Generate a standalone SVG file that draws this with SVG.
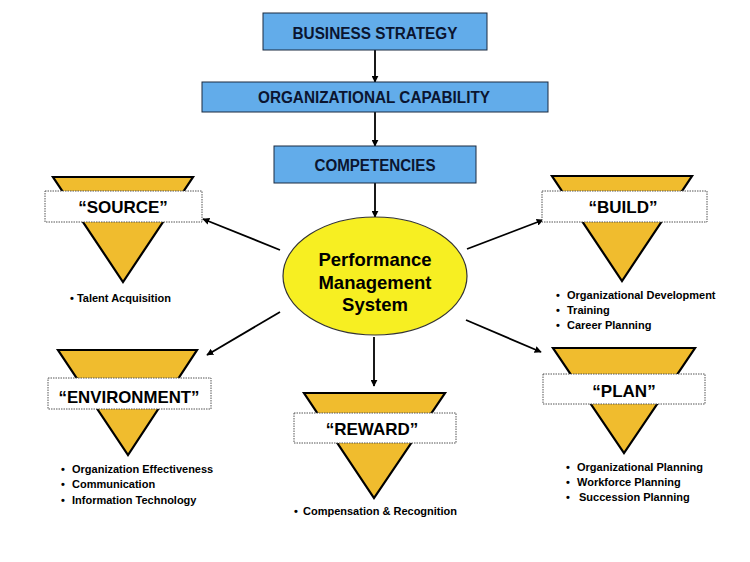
<svg xmlns="http://www.w3.org/2000/svg" width="750" height="562" viewBox="0 0 750 562">
<defs>
<marker id="ah" viewBox="0 0 10 10" refX="9" refY="5" markerWidth="7" markerHeight="7" markerUnits="userSpaceOnUse" orient="auto">
<path d="M0,0 L10,5 L0,10 z" fill="#000"/>
</marker>
<style>
.box{fill:#62acea;stroke:#1a2a40;stroke-width:1}
.bt{font-family:"Liberation Sans",Arial,sans-serif;font-weight:bold;font-size:16px;fill:#0b1530;text-anchor:middle}
.tri{fill:#f0bc2e;stroke:#000;stroke-width:2.2;stroke-linejoin:miter}
.lab{fill:#fff;stroke:#555;stroke-width:1;stroke-dasharray:1.5 1}
.lt{font-family:"Liberation Sans",Arial,sans-serif;font-weight:bold;font-size:17px;fill:#000;text-anchor:middle}
.bl{font-family:"Liberation Sans",Arial,sans-serif;font-weight:bold;font-size:11px;fill:#000}
.con{stroke:#000;stroke-width:1.8;fill:none;marker-end:url(#ah)}
.et{font-family:"Liberation Sans",Arial,sans-serif;font-weight:bold;font-size:18.5px;fill:#000;text-anchor:middle}
</style>
</defs>
<rect width="750" height="562" fill="#fff"/>
<g id="connectors">
<line class="con" x1="375" y1="50" x2="375" y2="82"/>
<line class="con" x1="375" y1="112" x2="375" y2="146"/>
<line class="con" x1="375" y1="183" x2="375" y2="217"/>
<line class="con" x1="280" y1="250" x2="203" y2="219"/>
<line class="con" x1="467" y1="249" x2="543" y2="220"/>
<line class="con" x1="280" y1="312" x2="207" y2="355"/>
<line class="con" x1="374" y1="337" x2="374" y2="386"/>
<line class="con" x1="466" y1="320" x2="541" y2="352"/>
</g>
<g id="business-strategy">
<rect class="box" x="263" y="13" width="224" height="37"/>
<text class="bt" x="375" y="39" textLength="165" lengthAdjust="spacingAndGlyphs">BUSINESS STRATEGY</text>
</g>
<g id="organizational-capability">
<rect class="box" x="202" y="82" width="346" height="30"/>
<text class="bt" x="374" y="103" textLength="232" lengthAdjust="spacingAndGlyphs">ORGANIZATIONAL CAPABILITY</text>
</g>
<g id="competencies">
<rect class="box" x="274" y="146" width="202" height="37"/>
<text class="bt" x="375" y="171" textLength="121" lengthAdjust="spacingAndGlyphs">COMPETENCIES</text>
</g>
<g id="pms">
<ellipse cx="375" cy="276" rx="92" ry="59" fill="#f7ef22" stroke="#333" stroke-width="1.2"/>
<text class="et" x="375" y="266">Performance</text>
<text class="et" x="375" y="289">Management</text>
<text class="et" x="375" y="311">System</text>
</g>
<g id="source">
<polygon class="tri" points="53,177 193,177 123,282"/>
<rect class="lab" x="45" y="191" width="157" height="31"/>
<text class="lt" x="123" y="213">“SOURCE”</text>
<text class="bl" x="70" y="302">• Talent Acquisition</text>
</g>
<g id="build">
<polygon class="tri" points="552,176 692,176 622,281"/>
<rect class="lab" x="542" y="191" width="165" height="31"/>
<text class="lt" x="623" y="213">“BUILD”</text>
<text class="bl" y="299"><tspan x="556">•</tspan><tspan x="567">Organizational Development</tspan></text>
<text class="bl" y="314"><tspan x="556">•</tspan><tspan x="567">Training</tspan></text>
<text class="bl" y="329"><tspan x="556">•</tspan><tspan x="567">Career Planning</tspan></text>
</g>
<g id="environment">
<polygon class="tri" points="58,350 197,350 128,455"/>
<rect class="lab" x="48" y="378" width="163" height="31"/>
<text class="lt" x="129" y="403" textLength="141" lengthAdjust="spacingAndGlyphs">“ENVIRONMENT”</text>
<text class="bl" y="473"><tspan x="61">•</tspan><tspan x="72">Organization Effectiveness</tspan></text>
<text class="bl" y="488"><tspan x="61">•</tspan><tspan x="72">Communication</tspan></text>
<text class="bl" y="504"><tspan x="61">•</tspan><tspan x="72">Information Technology</tspan></text>
</g>
<g id="reward">
<polygon class="tri" points="304,393 445,393 374,498"/>
<rect class="lab" x="294" y="413" width="162" height="30"/>
<text class="lt" x="372" y="435">“REWARD”</text>
<text class="bl" y="515"><tspan x="294">•</tspan><tspan x="303">Compensation &amp; Recognition</tspan></text>
</g>
<g id="plan">
<polygon class="tri" points="553,348 695,348 624,453"/>
<rect class="lab" x="543" y="374" width="162" height="30"/>
<text class="lt" x="624" y="397">“PLAN”</text>
<text class="bl" y="471"><tspan x="566">•</tspan><tspan x="577">Organizational Planning</tspan></text>
<text class="bl" y="486"><tspan x="566">•</tspan><tspan x="577">Workforce Planning</tspan></text>
<text class="bl" y="501"><tspan x="566">•</tspan><tspan x="579">Succession Planning</tspan></text>
</g>
</svg>
